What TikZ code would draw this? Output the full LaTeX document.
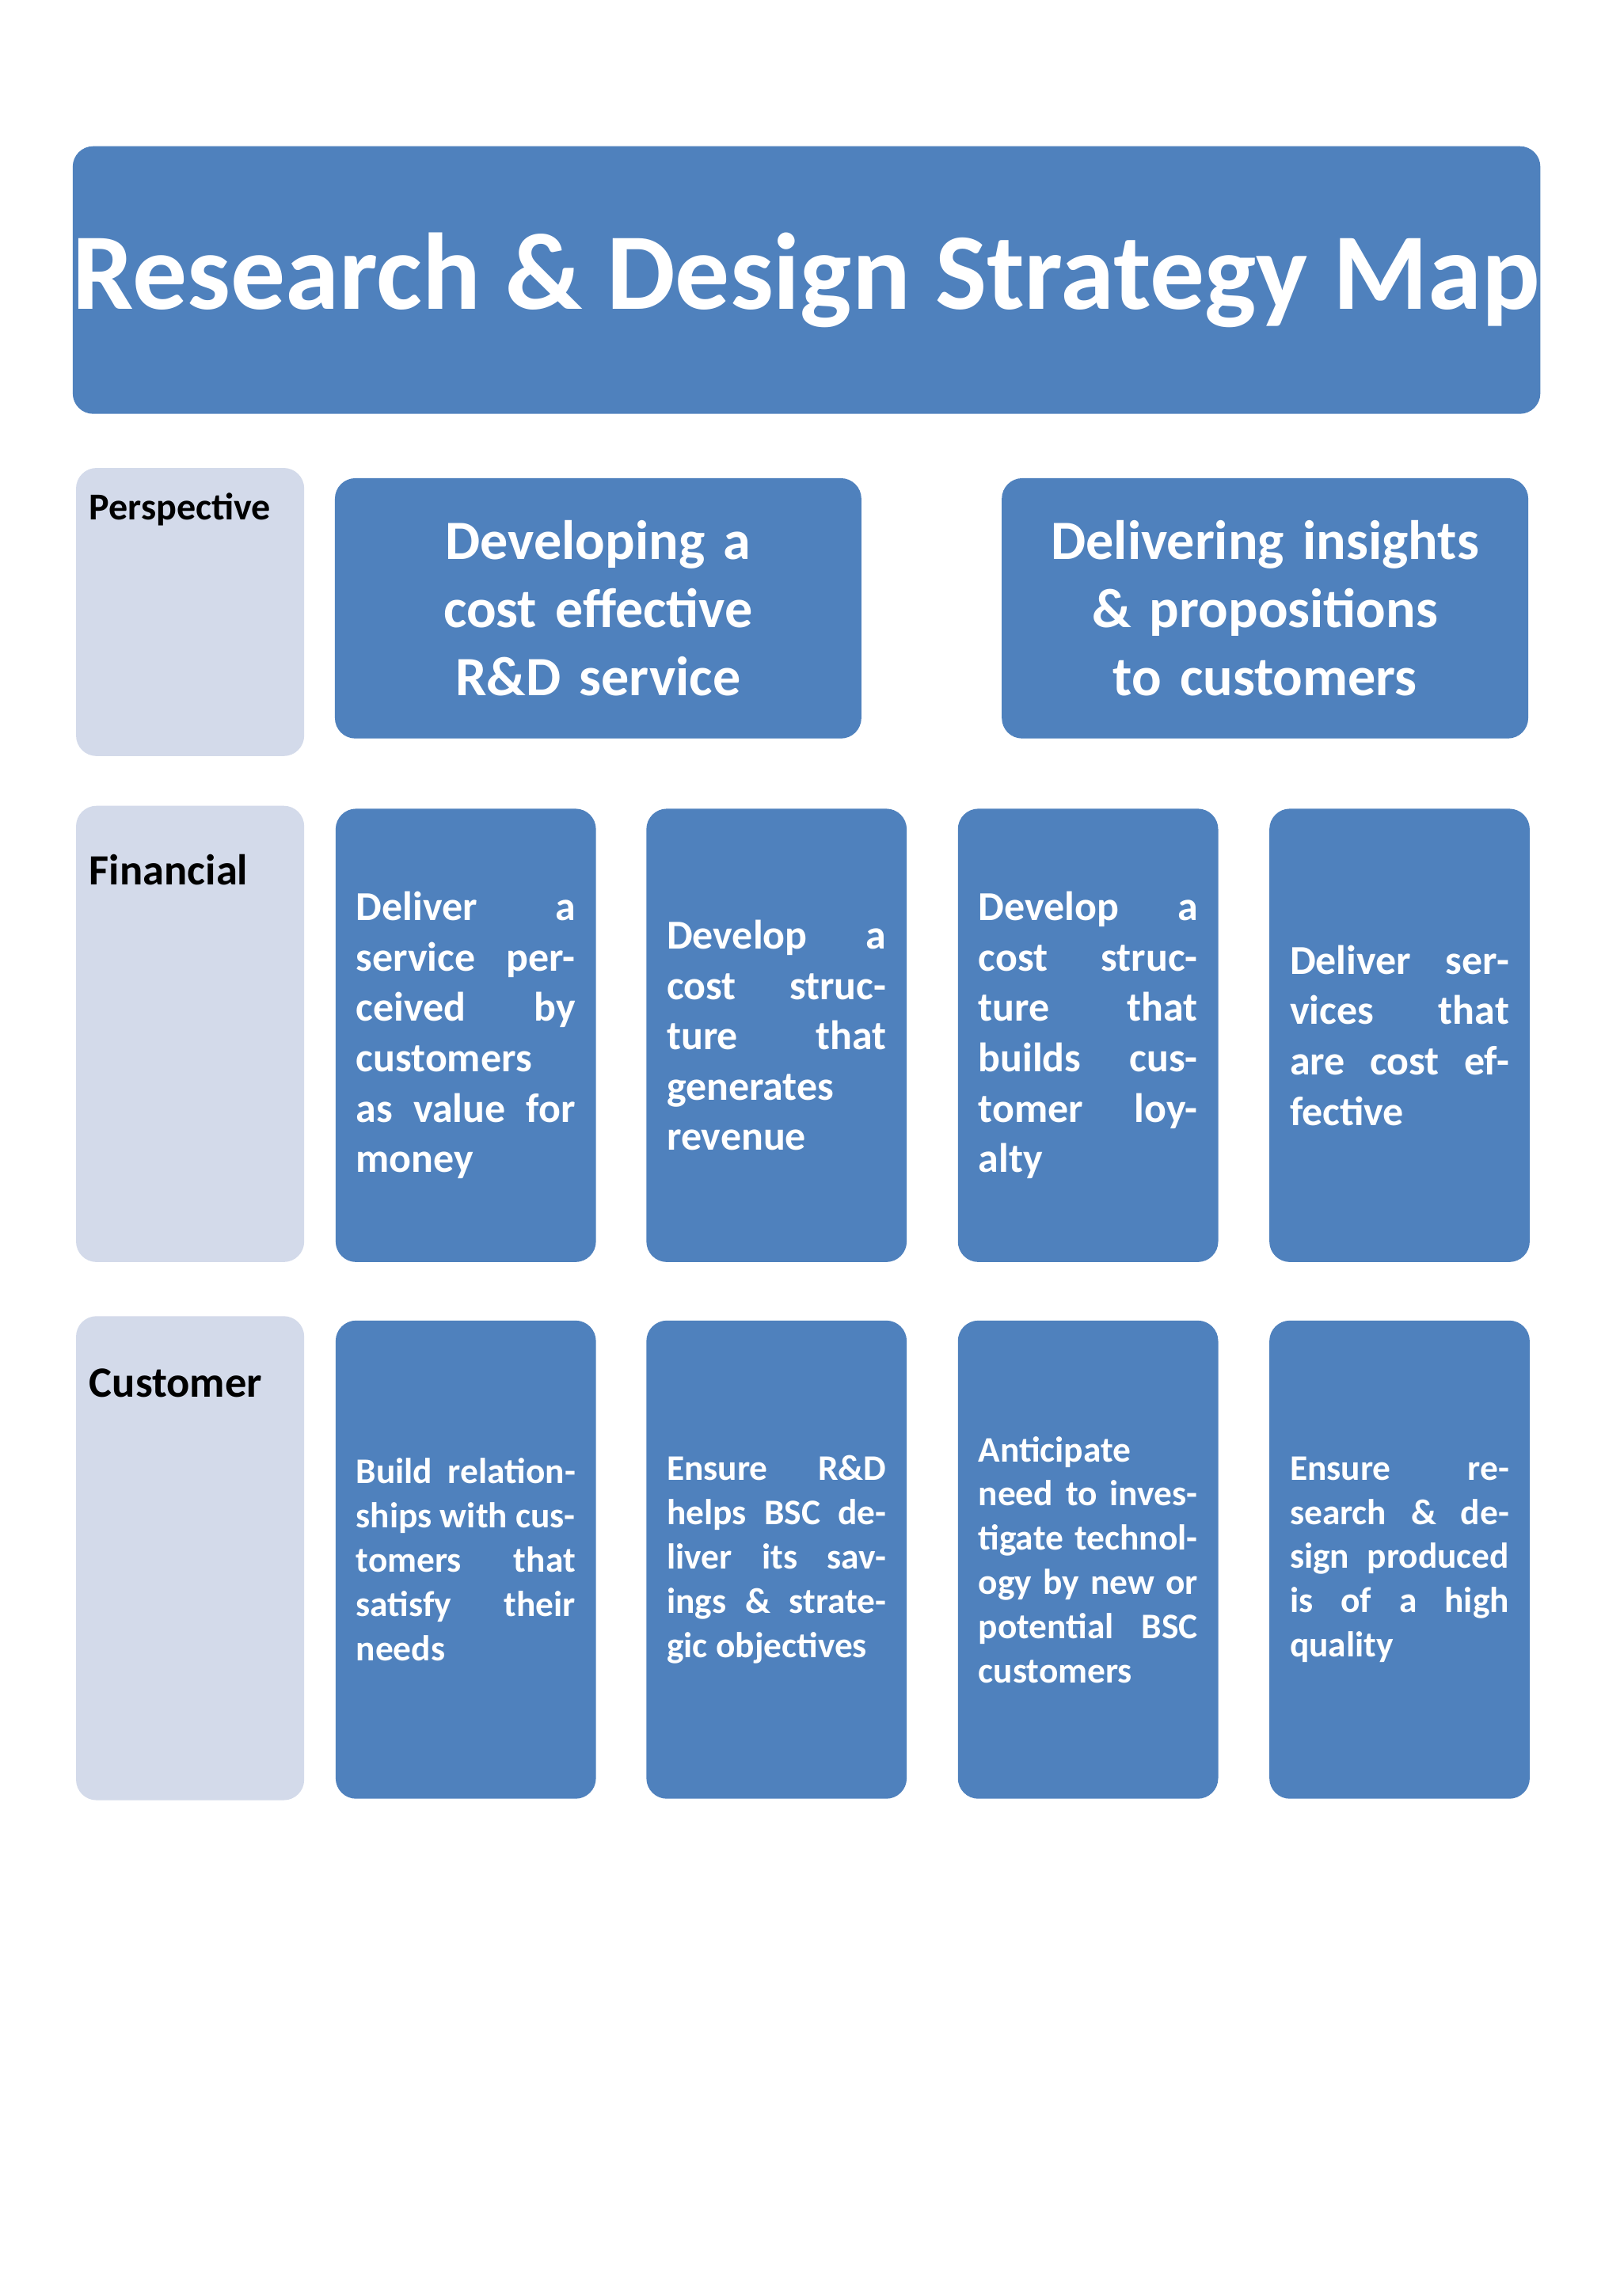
\documentclass[tikz,border=0pt]{standalone}
\usepackage{fontspec}
\setmainfont{Carlito}
\definecolor{bx}{HTML}{4F81BD}
\definecolor{lb}{HTML}{D3DAEA}
\begin{document}
\begin{tikzpicture}[x=0.05cm,y=-0.05cm,
 blue/.style={fill=bx,rounded corners=0.7cm,inner sep=0pt,text=white,font=\bfseries},
 cell/.style={blue,minimum width=8.9cm,text width=7.5cm,align=justify,font=\fontsize{40}{49}\selectfont\bfseries},
 fin/.style={cell,minimum height=15.5cm},
 cus/.style={cell,minimum height=16.35cm,font=\fontsize{35}{43}\selectfont\bfseries},
 persp/.style={blue,minimum width=18cm,minimum height=8.9cm,text width=17cm,align=center,font=\fontsize{54}{66}\selectfont\bfseries},
 lab/.style={fill=lb,rounded corners=0.7cm,minimum width=7.8cm,inner sep=0pt},
 labt/.style={anchor=north west,inner sep=0pt,font=\bfseries}]
\useasboundingbox (0,0) rectangle (1110,1568);
\fill[white] (0,0) rectangle (1110,1568);
\node[blue,minimum width=49.85cm,minimum height=9.15cm,font=\fontsize{106}{120}\selectfont\bfseries] (title) at (551.5,191.5) {Research \& Design Strategy Map};
\node[lab,minimum height=9.85cm] (lp) at (130,418.5) {};
\node[lab,minimum height=15.6cm] (lf) at (130,707) {};
\node[lab,minimum height=16.55cm] (lc) at (130,1065.5) {};
\node[labt,font=\fontsize{37}{44}\selectfont\bfseries] (tp) at (61,337) {Perspective};
\node[labt,font=\fontsize{42}{50}\selectfont\bfseries] (tf) at (61,584) {Financial};
\node[labt,font=\fontsize{42}{50}\selectfont\bfseries] (tc) at (61,936) {Customer};
\node[persp] (p1) at (409,416) {Developing a cost effective R\&D service};
\node[persp] (p2) at (865,416) {Delivering insights \& propositions to customers};
\node[fin] (f1) at (318.5,708) {Deliver a service perceived by customers as value for money};
\node[fin] (f2) at (531,708) {Develop a cost structure that generates revenue};
\node[fin] (f3) at (744,708) {Develop a cost structure that builds customer loyalty};
\node[fin] (f4) at (957,708) {Deliver services that are cost effective};
\node[cus] (c1) at (318.5,1066.5) {Build relationships with customers that satisfy their needs};
\node[cus] (c2) at (531,1066.5) {Ensure R\&D helps BSC deliver its savings \& strategic objectives};
\node[cus] (c3) at (744,1066.5) {Anticipate need to investigate technology by new or potential BSC customers};
\node[cus] (c4) at (957,1066.5) {Ensure research \& design produced is of a high quality};
\end{tikzpicture}
\end{document}
